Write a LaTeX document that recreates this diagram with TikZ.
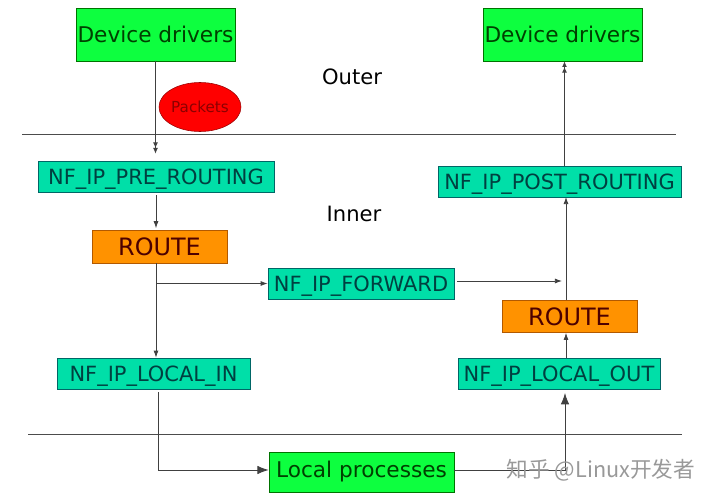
\documentclass[tikz,border=0pt]{standalone}
\usepackage{fontspec}
\setmainfont{DejaVu Sans}
\newfontfamily\cjkfont{Noto Sans CJK SC}
\usetikzlibrary{arrows.meta,shapes.geometric}
\definecolor{drivergreen}{HTML}{0DFF3F}
\definecolor{hookteal}{HTML}{00DFA8}
\definecolor{routeorange}{HTML}{FF9200}
\tikzset{
	box/.style={draw, line width=0.5pt, inner sep=0pt, anchor=center},
	driverbox/.style={box, draw=green!45!black, fill=drivergreen, text=green!25!black, minimum height=53*0.025cm, font=\fontsize{15.4}{18}\selectfont},
	hookbox/.style={box, draw=teal!80!black, fill=hookteal, text=teal!50!black, text depth=0pt, minimum height=31*0.025cm, font=\fontsize{14.9}{15}\selectfont},
	routebox/.style={box, draw=orange!70!black, fill=routeorange, text=red!30!black, minimum height=33*0.025cm, font=\fontsize{17}{18}\selectfont},
	link/.style={draw=black!75, line width=0.55pt},
	rule/.style={draw=black!70, line width=0.5pt},
	smalltip/.style={-{Latex[length=5pt,width=3.5pt]}},
	bigtip/.style={-{Latex[length=8pt,width=6pt]}},
	twotip/.style={-{Latex[length=4pt,width=3.5pt]Latex[length=4pt,width=3.5pt]}}
}
\begin{document}
\begin{tikzpicture}
		[
		x=0.025cm, y=-0.025cm
		%Pixel des Bildes als Einheit
		]
		\useasboundingbox (0,0) rectangle (712,500);
		
		%Trennlinien
		\draw [rule] (22,134)--++(654,0);
		\draw [rule] (28,434.5)--++(654,0);
		
		%Boxen links
		\node [driverbox, minimum width=159*0.025cm] (driversin) at (155.5,34.5) {Device drivers};
		\node [hookbox, minimum width=236*0.025cm] (prerouting) at (156,176.5) {NF\_IP\_PRE\_ROUTING};
		\node [routebox, minimum width=135*0.025cm] (routein) at (159.5,246.5) {ROUTE};
		\node [hookbox, minimum width=193*0.025cm] (localin) at (153.5,373.5) {NF\_IP\_LOCAL\_IN};
		
		%Boxen Mitte
		\node [hookbox, minimum width=186*0.025cm] (forward) at (361,283.5) {NF\_IP\_FORWARD};
		\node [driverbox, minimum width=185*0.025cm, minimum height=40*0.025cm] (processes) at (361.5,472) {Local processes};
		
		%Boxen rechts
		\node [driverbox, minimum width=159*0.025cm] (driversout) at (562.5,34.5) {Device drivers};
		\node [hookbox, minimum width=243*0.025cm] (postrouting) at (559.5,181.5) {NF\_IP\_POST\_ROUTING};
		\node [routebox, minimum width=135*0.025cm, minimum height=32*0.025cm] (routeout) at (569.5,316.5) {ROUTE};
		\node [hookbox, minimum width=202*0.025cm] (localout) at (559,373.5) {NF\_IP\_LOCAL\_OUT};
		
		%Paket und Texte
		\node [ellipse, draw=red!60!black, fill=red, text=red!55!black, minimum width=82*0.025cm, minimum height=49*0.025cm, inner sep=0pt, font=\fontsize{10.8}{12}\selectfont] (packets) at (200,107) {Packets};
		\node [font=\fontsize{15}{18}\selectfont] (outer) at (352,77) {Outer};
		\node [font=\fontsize{15}{18}\selectfont] (inner) at (354,214) {Inner};
		
		%Hilfspunkte
		\coordinate (branch) at (routein.south -| prerouting.south);
		\coordinate (postin) at (566,197);
		\coordinate (joinout) at (562,281);
		
		%Pfeile links
		\draw [link, twotip, shorten >=5pt] (driversin)++(0,26.5) -- (driversin.south |- prerouting.north);
		\draw [link, smalltip, shorten <=2pt, shorten >=1pt] (prerouting.south) -- (prerouting.south |- routein.north);
		\draw [link, smalltip] (branch) -- (branch |- localin.north);
		\draw [link, smalltip] (branch |- forward.west) -- (forward.west);
		\draw [link, bigtip, shorten <=2pt] (localin.south -| 158,0) |- (processes.west |- 0,470);
		
		%Pfeile rechts
		\draw [link, smalltip, shorten <=2pt] (forward.east |- joinout) -- (joinout);
		\draw [link, bigtip] (processes.east |- 0,470) -| (565,393);
		\draw [link, smalltip] (localout.north -| postin) -- (routeout.south -| postin);
		\draw [link, smalltip] (routeout.north -| postin) -- (postin);
		\draw [link, twotip] (postrouting.north -| 564.5,0) -- (driversout.south -| 564.5,0);
		
		%Wasserzeichen
		\node [text=black!40, font=\fontsize{15.4}{17}\cjkfont] (mark) at (601,470) {知乎 @Linux开发者};
	\end{tikzpicture}
\end{document}
